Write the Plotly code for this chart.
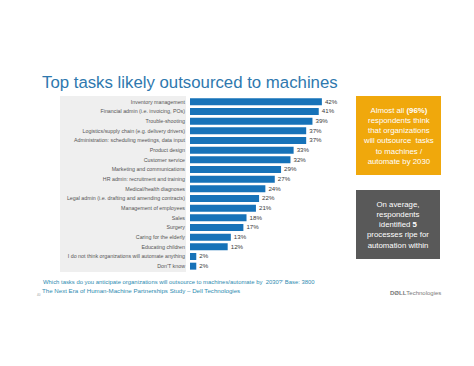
import plotly.graph_objects as go

categories = [
    "Inventory management",
    "Financial admin (i.e. invoicing, POs)",
    "Trouble-shooting",
    "Logistics/supply chain (e.g. delivery drivers)",
    "Administration: scheduling meetings, data input",
    "Product design",
    "Customer service",
    "Marketing and communications",
    "HR admin: recruitment and training",
    "Medical/health diagnoses",
    "Legal admin (i.e. drafting and amending contracts)",
    "Management of employees",
    "Sales",
    "Surgery",
    "Caring for the elderly",
    "Educating children",
    "I do not think organizations will automate anything",
    "Don'T know",
]
values = [42, 41, 39, 37, 37, 33, 32, 29, 27, 24, 22, 21, 18, 17, 13, 12, 2, 2]
value_labels = [f"{v}%" for v in values]

W, H = 474, 366
OFF = 8  # page body margin
def px(x): return (x - OFF) / W
def py(y): return 1 - (y - OFF) / H

FONT = "Arial, Liberation Sans, sans-serif"

fig = go.Figure()
fig.add_trace(go.Bar(
    x=values, y=categories, orientation="h",
    marker=dict(color="#1672B8", line=dict(width=0)),
    width=0.72,
    text=value_labels, textposition="outside", cliponaxis=False,
    textfont=dict(size=8, color="#3a3a3a", family=FONT),
    hoverinfo="skip",
))

fig.update_layout(
    width=W, height=H,
    margin=dict(l=0, r=0, t=0, b=0),
    paper_bgcolor="white", plot_bgcolor="rgba(0,0,0,0)",
    showlegend=False,
    font=dict(family=FONT),
    xaxis=dict(domain=[px(190), px(340)], range=[0, 150 / 3.14],
               visible=False, fixedrange=True),
    yaxis=dict(domain=[py(271), py(97)], autorange="reversed",
               showgrid=False, zeroline=False, showline=False,
               ticks="", ticklabelstandoff=4,
               tickfont=dict(size=5.3, color="#555555", family=FONT)),
    bargap=0.28,
)

shapes = [
    dict(type="rect", xref="paper", yref="paper", x0=px(60), x1=px(186),
         y0=py(272), y1=py(96), fillcolor="#EFEFEF", line=dict(width=0), layer="below"),
    dict(type="rect", xref="paper", yref="paper", x0=px(356), x1=px(441),
         y0=py(175), y1=py(96), fillcolor="#F0A80C", line=dict(width=0), layer="below"),
    dict(type="rect", xref="paper", yref="paper", x0=px(356), x1=px(440),
         y0=py(259), y1=py(190), fillcolor="#595959", line=dict(width=0), layer="below"),
]
fig.update_layout(shapes=shapes)

ann = [
    dict(text="Top tasks likely outsourced to machines", x=px(40), y=py(82),
         xanchor="left", yanchor="middle",
         font=dict(size=16.8, color="#2E78AE", family=FONT)),
    dict(text="Almost all <b>(96%)</b><br>respondents think<br>that organizations<br>"
              "will outsource  tasks<br>to machines /<br>automate by 2030",
         x=px(398.5), y=py(135.5), xanchor="center", yanchor="middle",
         font=dict(size=7.8, color="white", family=FONT)),
    dict(text="On average,<br>respondents<br>identified <b>5</b><br>processes ripe for<br>automation within",
         x=px(398), y=py(225), xanchor="center", yanchor="middle",
         font=dict(size=7.8, color="white", family=FONT)),
    dict(text="Which tasks do you anticipate organizations will outsource to machines/automate by  2030?' Base: 3800",
         x=px(41), y=py(282), xanchor="left", yanchor="middle",
         font=dict(size=5.9, color="#2E8BB0", family=FONT)),
    dict(text="The Next Era of Human-Machine Partnerships Study \u2013 Dell Technologies",
         x=px(40), y=py(290.5), xanchor="left", yanchor="middle",
         font=dict(size=6.15, color="#2E8BB0", family=FONT)),
    dict(text="40", x=px(35), y=py(295), xanchor="left", yanchor="middle",
         font=dict(size=3, color="#999999", family=FONT)),
    dict(text="<b>D\u00d8LL</b>Technologies", x=px(388), y=py(293), xanchor="left", yanchor="middle",
         font=dict(size=6, color="#7a7a7a", family=FONT)),
]
for a in ann:
    a.update(xref="paper", yref="paper", showarrow=False)
fig.update_layout(annotations=ann)

fig.write_html("out.html")
